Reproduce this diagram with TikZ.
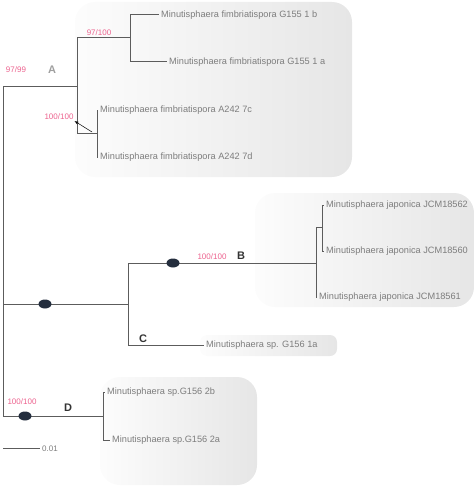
\documentclass[tikz,border=0pt]{standalone}
\usepackage{fontspec}
\setmainfont{Liberation Sans}
\usetikzlibrary{positioning,shapes.geometric,arrows.meta}
\definecolor{support}{RGB}{236,98,142}
\definecolor{branch}{RGB}{92,92,92}
\definecolor{taxon}{RGB}{125,125,125}
\definecolor{dotfill}{RGB}{36,46,62}
\definecolor{boxgray}{RGB}{230,230,230}

\begin{document}
\begin{tikzpicture}[x=1pt, y=-1pt,
    every node/.append style={font=\fontsize{9.2}{10}\selectfont},
    br/.style={draw=branch, line width=1pt},
    tip/.style={anchor=west, text=taxon, inner sep=2pt},
    supp/.style={text=support, inner sep=1pt, font=\fontsize{8}{9}\selectfont},
    clade/.style={inner sep=1pt, font=\bfseries\fontsize{11}{12}\selectfont},
    blob/.style={ellipse, fill=dotfill, minimum width=13pt, minimum height=9pt, inner sep=0pt},
    cladebox/.style={rounded corners=#1, left color=gray!2, right color=boxgray, draw=none},
    cladebox/.default=20pt]
    \useasboundingbox (0,0) rectangle (474,487);

    % shaded clade boxes
    \path[cladebox] (75,2) rectangle (352,177);
    \path[cladebox] (255,193) rectangle (474,307);
    \path[cladebox=7pt] (200,335) rectangle (337,356);
    \path[cladebox] (100,377) rectangle (257,485);

    % internal nodes
    \coordinate (root) at (3,304);
    \coordinate (nA) at (77,86);
    \coordinate (nA1) at (130,38);
    \coordinate (nA2) at (97,133);
    \coordinate (nBC) at (128,304);
    \coordinate (nB) at (316,263);
    \coordinate (nB1) at (322,227);
    \coordinate (nD) at (103,416);

    % tips
    \node[tip] (g155b) at (159,15) {Minutisphaera fimbriatispora G155 1 b};
    \node[tip] (g155a) at (167,62) {Minutisphaera fimbriatispora G155 1 a};
    \node[tip] (a242c) at (98,110) {Minutisphaera fimbriatispora A242 7c};
    \node[tip] (a242d) at (98,157) {Minutisphaera fimbriatispora A242 7d};
    \node[tip] (jcm62) at (324,205) {Minutisphaera japonica JCM18562};
    \node[tip] (jcm60) at (324,251) {Minutisphaera japonica JCM18560};
    \node[tip] (jcm61) at (317,297) {Minutisphaera japonica JCM18561};
    \node[tip] (g1561a) at (204,345) {Minutisphaera sp. G156 1a};
    \node[tip] (g1562b) at (105,392) {Minutisphaera sp.G156 2b};
    \node[tip] (g1562a) at (110,440) {Minutisphaera sp.G156 2a};

    % branches
    \draw[br] (root) |- (nA);
    \draw[br] (root) |- (nD);
    \draw[br] (root) -- (nBC);
    \draw[br] (nA) |- (nA1);
    \draw[br] (nA) |- (nA2);
    \draw[br] (nA1) |- (g155b.west);
    \draw[br] (nA1) |- (g155a.west);
    \draw[br] (nA2) |- (a242c.west);
    \draw[br] (nA2) |- (a242d.west);
    \draw[br] (nBC) |- (nB);
    \draw[br] (nBC) |- (g1561a.west);
    \draw[br] (nB) |- (nB1);
    \draw[br] (nB) |- (jcm61.west);
    \draw[br] (nB1) |- (jcm62.west);
    \draw[br] (nB1) |- (jcm60.west);
    \draw[br] (nD) |- (g1562b.west);
    \draw[br] (nD) |- (g1562a.west);

    % supported nodes
    \node[blob] (dotD) at (25,416) {};
    \node[blob] (dotBC) at (45,304) {};
    \node[blob] (dotB) at (173,263) {};

    % support values and clade names
    \node[supp] (sRoot) at (16,70) {97/99};
    \node[supp] (sA1) at (99,33) {97/100};
    \node[supp] (sA2) at (59,117) {100/100};
    \node[supp] (sB) at (212,257) {100/100};
    \node[supp] (sD) at (22,402) {100/100};
    \node[clade, text=gray!75] (cA) at (52,70) {A};
    \node[clade, text=black!80] (cB) at (241,256) {B};
    \node[clade, text=black!80] (cC) at (143,339) {C};
    \node[clade, text=black!80] (cD) at (68,408) {D};

    \coordinate (pointer) at (92,132);
    \draw[-{Stealth[length=4pt,width=3pt]}, line width=0.5pt] (pointer) -- (sA2.south east);

    % scale bar
    \coordinate (sc0) at (3,448);
    \node[text=taxon, anchor=west, inner sep=2pt, font=\fontsize{8}{9}\selectfont] (scale) at (40,449) {0.01};
    \draw[br] (sc0) -- (scale.west |- sc0);
\end{tikzpicture}
\end{document}
